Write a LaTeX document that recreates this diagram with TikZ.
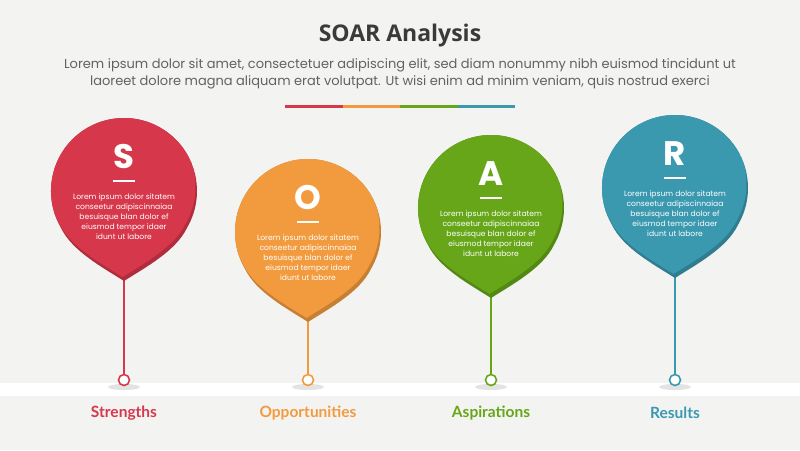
\documentclass[tikz,border=0pt]{standalone}
\usepackage{fontspec}
\setmainfont{Poppins}
\newfontfamily\titlefont{Open Sans}
\newfontfamily\labelfont{Lato}
\usetikzlibrary{positioning}

\definecolor{sred}{HTML}{D7374A}
\definecolor{sorange}{HTML}{F29B3E}
\definecolor{sgreen}{HTML}{66A618}
\definecolor{sblue}{HTML}{3A99AF}
\definecolor{bggray}{HTML}{F3F3F2}
\definecolor{titlegray}{HTML}{3A3A3A}
\definecolor{bodygray}{HTML}{626262}

\tikzset{
  balloon/.style={insert path={(63.2,36.5) arc[start angle=-30, end angle=210, radius=73pt]
      .. controls (-52,60) and (-22,76) .. (0,90)
      .. controls (22,76) and (52,60) .. cycle}}
}

\begin{document}
\begin{tikzpicture}[x=1pt,y=-1pt]
        \tikzstyle{ring}=[circle, fill=white, line width=1.6pt, inner sep=0pt, minimum size=11pt]
        \tikzstyle{ltr}=[text=white, font=\fontsize{34}{34}\selectfont\bfseries]
        \tikzstyle{txt}=[text=white, align=center, font=\fontsize{7.6}{10}\selectfont]
        \tikzstyle{lbl}=[font=\labelfont\fontsize{15.5}{15.5}\selectfont\bfseries]

        \useasboundingbox (0,0) rectangle (800,450);
        \fill[bggray] (0,0) rectangle (800,450);
        \fill[white] (0,383) rectangle (800,396);

        % heading
        \node[text=titlegray, font=\titlefont\fontsize{23}{23}\selectfont\bfseries] (title) at (400,36) {SOAR Analysis};
        \node[text=bodygray, align=center, font=\fontsize{13}{16.5}\selectfont] (intro) at (400,74)
            {Lorem ipsum dolor sit amet, consectetuer adipiscing elit, sed diam nonummy nibh euismod tincidunt ut\\
             laoreet dolore magna aliquam erat volutpat. Ut wisi enim ad minim veniam, quis nostrud exerci};
        \coordinate (bar0) at (285,106);
        \coordinate (bar1) at (342.5,106);
        \coordinate (bar2) at (400,106);
        \coordinate (bar3) at (457.5,106);
        \coordinate (bar4) at (515,106);
        \draw[sred, line width=3pt] (bar0) -- (bar1);
        \draw[sorange, line width=3pt] (bar1) -- (bar2);
        \draw[sgreen, line width=3pt] (bar2) -- (bar3);
        \draw[sblue, line width=3pt] (bar3) -- (bar4);

        % balloons
        \foreach \cx/\cy/\col/\ltrtext/\lab/\nm in {124/191/sred/S/Strengths/s,
                308/232/sorange/O/Opportunities/o,
                491/208/sgreen/A/Aspirations/a,
                675/188/sblue/R/Results/r}{
            \fill[gray!22] (\cx,387) ellipse[x radius=16pt, y radius=3pt];
            \node[ring, draw=\col] (\nm-ring) at (\cx,380) {};
            \coordinate (\nm-tip) at (\cx,\cy+89);
            \draw[\col, line width=1.6pt] (\nm-tip) -- (\nm-ring);
            \begin{scope}[shift={(\cx,\cy)}]
                \fill[\col!82!black, balloon];
                \begin{scope}
                    \path[clip, balloon];
                    \fill[\col, shift={(-1.5,-4)}, balloon];
                \end{scope}
                \node[ltr] (\nm-ltr) at (0,-34) {\ltrtext};
                \coordinate (\nm-ul) at (0,-10);
                \draw[white, line width=1.8pt] ([xshift=-11pt]\nm-ul) -- ([xshift=11pt]\nm-ul);
                \node[txt] (\nm-txt) at (0,26) {Lorem ipsum dolor sitatem\\conseetur adipiscinnaiaa\\besuisque blan dolor ef\\eiusmod tempor idaer\\idunt ut labore};
            \end{scope}
            \node[lbl, text=\col] (\nm-lab) at (\cx,413) {\lab};
        }

    \end{tikzpicture}
\end{document}
